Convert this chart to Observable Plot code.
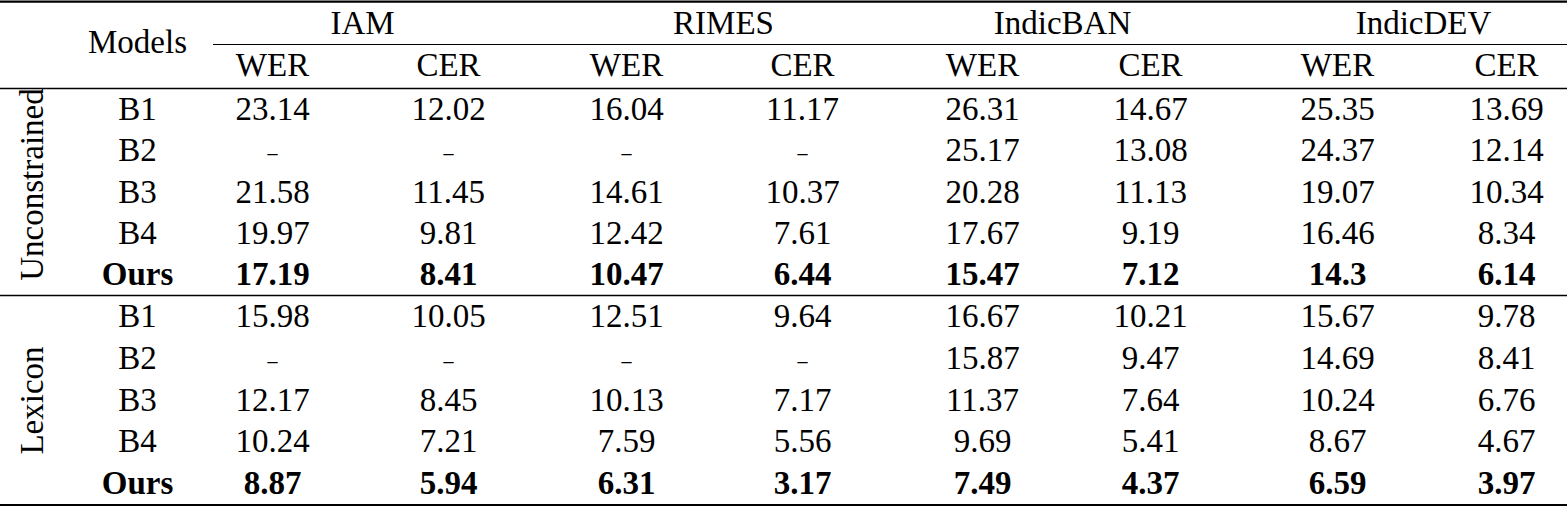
<!DOCTYPE html>
<html><head><meta charset="utf-8">
<script src="https://cdn.jsdelivr.net/npm/d3@7"></script>
<script src="https://cdn.jsdelivr.net/npm/@observablehq/plot@0.6"></script>
<style>html,body{margin:0;padding:0;background:#fff;overflow:hidden}svg{display:block}</style>
</head><body><div id="chart"></div>
<script>
// ---- data ----
const datasets = ["IAM", "RIMES", "IndicBAN", "IndicDEV"];
const metrics = ["WER", "CER"];
const settings = ["Unconstrained", "Lexicon"];
const models = ["B1", "B2", "B3", "B4", "Ours"];
const modelsHeader = "Models";
const unconstrained = [
  [23.14, 12.02, 16.04, 11.17, 26.31, 14.67, 25.35, 13.69],
  [null, null, null, null, 25.17, 13.08, 24.37, 12.14],
  [21.58, 11.45, 14.61, 10.37, 20.28, 11.13, 19.07, 10.34],
  [19.97, 9.81, 12.42, 7.61, 17.67, 9.19, 16.46, 8.34],
  [17.19, 8.41, 10.47, 6.44, 15.47, 7.12, 14.3, 6.14]
];
const lexicon = [
  [15.98, 10.05, 12.51, 9.64, 16.67, 10.21, 15.67, 9.78],
  [null, null, null, null, 15.87, 9.47, 14.69, 8.41],
  [12.17, 8.45, 10.13, 7.17, 11.37, 7.64, 10.24, 6.76],
  [10.24, 7.21, 7.59, 5.56, 9.69, 5.41, 8.67, 4.67],
  [8.87, 5.94, 6.31, 3.17, 7.49, 4.37, 6.59, 3.97]
];
const missingLabel = "_";

// ---- layout (positions in page units) ----
const W = 1567, H = 506;
const colX = [272, 448, 626, 802, 982, 1150, 1337, 1506];
const groupX = [362, 723, 1062, 1423];
const modelX = 137;
const settingX = 32;
const settingY = [184, 400];
const bands = [[88, 295], [295, 504]];
const headRowY = [22.5, 64.5];
const modelsHeadY = 41.5;
const cmidX1 = 213;
const FS = 33;

const tables = [unconstrained, lexicon];
const cells = [], modelCells = [];
tables.forEach((tbl, g) => {
  const [a, b] = bands[g];
  const h = (b - a) / models.length;
  tbl.forEach((row, r) => {
    const y = a + (r + 0.5) * h;
    const bold = models[r] === "Ours";
    modelCells.push({x: modelX, y, label: models[r], bold});
    row.forEach((v, c) => cells.push({x: colX[c], y, v, bold, label: v == null ? missingLabel : String(v)}));
  });
});

const header = [
  ...datasets.map((d, i) => ({x: groupX[i], y: headRowY[0], label: d})),
  ...colX.map((x, i) => ({x, y: headRowY[1], label: metrics[i % 2]})),
  {x: modelX, y: modelsHeadY, label: modelsHeader}
];
const rules = [
  {x1: 0, x2: W, y: 1.2, w: 2.3},
  {x1: cmidX1, x2: W, y: 44, w: 1.1},
  {x1: 0, x2: W, y: 88, w: 1.5},
  {x1: 0, x2: W, y: 295, w: 1.5},
  {x1: 0, x2: W, y: 504.6, w: 2.3}
];
const settingLabels = settings.map((s, i) => ({x: settingX, y: settingY[i], label: s}));

const normal = d => !d.bold && d.v != null;
const chart = Plot.plot({
  width: W, height: H, margin: 0,
  x: {type: "linear", domain: [0, W], range: [0, W], axis: null},
  y: {type: "linear", domain: [0, H], range: [0, H], axis: null},
  style: {fontFamily: "'Liberation Serif', 'DejaVu Serif', serif", background: "white", color: "black"},
  marks: [
    Plot.ruleY(rules, {y: "y", x1: "x1", x2: "x2", strokeWidth: "w", stroke: "black"}),
    Plot.text(header, {x: "x", y: "y", text: "label", fontSize: FS, fill: "black", textAnchor: "middle", lineAnchor: "middle"}),
    Plot.text(settingLabels, {x: "x", y: "y", text: "label", fontSize: FS, fill: "black", rotate: -90, textAnchor: "middle", lineAnchor: "middle"}),
    Plot.text(modelCells.filter(d => !d.bold), {x: "x", y: "y", text: "label", fontSize: FS, fill: "black", textAnchor: "middle", lineAnchor: "middle"}),
    Plot.text(modelCells.filter(d => d.bold), {x: "x", y: "y", text: "label", fontSize: FS, fill: "black", fontWeight: "bold", textAnchor: "middle", lineAnchor: "middle"}),
    Plot.text(cells.filter(normal), {x: "x", y: "y", text: "label", fontSize: FS, fill: "black", textAnchor: "middle", lineAnchor: "middle"}),
    Plot.text(cells.filter(d => d.bold), {x: "x", y: "y", text: "label", fontSize: FS, fill: "black", fontWeight: "bold", textAnchor: "middle", lineAnchor: "middle"}),
    Plot.text(cells.filter(d => d.v == null), {x: "x", y: "y", text: "label", fontSize: 20, fill: "black", textAnchor: "middle", lineAnchor: "middle", dy: -5})
  ]
});
document.getElementById("chart").appendChild(chart);
</script>
</body></html>
